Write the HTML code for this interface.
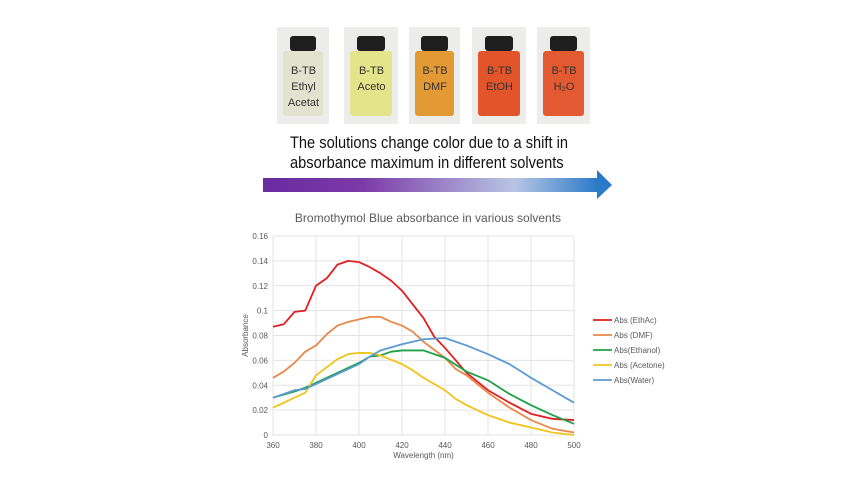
<!DOCTYPE html>
<html><head><meta charset="utf-8"><style>
body{margin:0;width:850px;height:478px;background:#fff;overflow:hidden;font-family:"Liberation Sans",sans-serif;position:relative}
.vial{position:absolute;top:27px;height:97px;background:#ececea;overflow:hidden}
.vial .cap{position:absolute;top:9px;height:15px;background:#1e1e1e;border-radius:3px}
.vial .glass{position:absolute;top:24px;bottom:8px;border-radius:3px}
.vial span{position:absolute;top:36px;left:3px;right:2px;font:11px "Liberation Sans",sans-serif;color:#333;text-align:center;line-height:16px}
.caption{position:absolute;left:290px;top:133px;font-size:17px;color:#111;line-height:20px;transform:scaleX(0.86);transform-origin:0 0;white-space:nowrap}
</style></head><body>
<div class="vial" style="left:277px;width:52px"><div class="cap" style="left:13px;width:26px"></div><div class="glass" style="left:6px;right:6px;background:#e2e3cf"></div><span>B-TB Ethyl Acetat</span></div>
<div class="vial" style="left:344px;width:54px"><div class="cap" style="left:13px;width:28px"></div><div class="glass" style="left:6px;right:6px;background:#e4e48a"></div><span>B-TB Aceto</span></div>
<div class="vial" style="left:409px;width:51px"><div class="cap" style="left:12px;width:27px"></div><div class="glass" style="left:6px;right:6px;background:#e49a34"></div><span>B-TB DMF</span></div>
<div class="vial" style="left:472px;width:54px"><div class="cap" style="left:13px;width:28px"></div><div class="glass" style="left:6px;right:6px;background:#e2552a"></div><span>B-TB EtOH</span></div>
<div class="vial" style="left:537px;width:53px"><div class="cap" style="left:13px;width:27px"></div><div class="glass" style="left:6px;right:6px;background:#e35a32"></div><span>B-TB H₂O</span></div>
<div class="caption">The solutions change color due to a shift in<br>absorbance maximum in different solvents</div>
<svg width="850" height="478" style="position:absolute;left:0;top:0" id="svg">
<defs><linearGradient id="ag" x1="0" x2="1"><stop offset="0" stop-color="#6a2aa0"/><stop offset="0.3" stop-color="#7c3aa8"/><stop offset="0.75" stop-color="#b8c6e4"/><stop offset="1" stop-color="#2a7ac8"/></linearGradient></defs>
<g><rect x="263" y="178" width="335" height="14" fill="url(#ag)"/><polygon points="597,170 612,185 597,199" fill="#2a7ac8"/></g>
<text x="428" y="222" text-anchor="middle" font-size="12" fill="#595959">Bromothymol Blue absorbance in various solvents</text>
<g id="plot"></g>
</svg>
<script>
const xTicks=[360,380,400,420,440,460,480,500];
const yTicks=[0,0.02,0.04,0.06,0.08,0.1,0.12,0.14,0.16];
const yTickLabels=["0","0.02","0.04","0.06","0.08","0.1","0.12","0.14","0.16"];
const seriesNames=["Abs (EthAc)","Abs (DMF)","Abs(Ethanol)","Abs (Acetone)","Abs(Water)"];
const seriesColors=["#e02020","#e8884a","#1fa04a","#f0c419","#5b9bd5"];
const ethacX=[360,365,370,375,380,385,390,395,400,405,410,415,420,425,430,435,440,450,460,470,480,490,500];
const ethacY=[.087,.089,.099,.1,.12,.126,.137,.14,.139,.135,.13,.124,.116,.105,.094,.079,.07,.05,.036,.026,.017,.013,.012];
const dmfX=[360,365,370,375,380,385,390,395,400,405,410,415,420,425,430,440,445,450,460,470,480,490,500];
const dmfY=[.046,.051,.058,.067,.072,.081,.088,.091,.093,.095,.095,.091,.088,.083,.075,.062,.053,.048,.034,.022,.012,.005,.002];
const ethanolX=[360,370,375,380,390,400,405,410,415,420,430,440,450,460,470,480,490,500];
const ethanolY=[.03,.035,.038,.042,.05,.058,.063,.064,.067,.068,.068,.062,.051,.044,.033,.024,.016,.009];
const acetoneX=[360,365,370,375,380,390,395,400,405,410,420,425,430,440,445,450,460,470,480,490,500];
const acetoneY=[.022,.026,.030,.034,.048,.061,.065,.066,.066,.064,.057,.052,.046,.036,.029,.024,.016,.010,.006,.002,0];
const waterX=[360,370,375,380,390,400,405,410,420,425,430,440,450,460,470,480,490,500];
const waterY=[.03,.036,.037,.041,.049,.057,.063,.068,.073,.075,.077,.078,.072,.065,.057,.046,.036,.026];
const seriesX=[ethacX,dmfX,ethanolX,acetoneX,waterX];
const seriesY=[ethacY,dmfY,ethanolY,acetoneY,waterY];
const L=273,R=574,T=236,B=435;
const sx=v=>L+(v-360)/(500-360)*(R-L);
const sy=v=>B-v/0.16*(B-T);
const g=document.getElementById('plot');
const NS='http://www.w3.org/2000/svg';
function mk(t,a){const e=document.createElementNS(NS,t);for(const k in a)e.setAttribute(k,a[k]);g.appendChild(e);return e;}
yTicks.forEach((v,i)=>{
 const l=mk('line',{x1:L,x2:R,y1:sy(v),y2:sy(v),stroke:'#e3e3e3','stroke-width':1});
 
 
 const t=mk('text',{x:L-5,y:sy(v)+3,'text-anchor':'end','font-size':8,fill:'#595959'});
 t.textContent=yTickLabels[i];
 
 
});
xTicks.forEach(v=>{
 const l=mk('line',{x1:sx(v),x2:sx(v),y1:T,y2:B,stroke:'#e3e3e3','stroke-width':1});
 
 
 const t=mk('text',{x:sx(v),y:B+13,'text-anchor':'middle','font-size':8,fill:'#595959'});
 t.textContent=v;
 
 
});
let xt=mk('text',{x:(L+R)/2,y:458,'text-anchor':'middle','font-size':8,fill:'#595959'});xt.textContent='Wavelength (nm)';


let yt=mk('text',{x:0,y:0,'text-anchor':'middle','font-size':8,fill:'#595959',transform:`translate(248,${(T+B)/2}) rotate(-90)`});yt.textContent='Absorbance';


seriesX.forEach((xs,s)=>{
 const p=mk('polyline',{points:xs.map((x,i)=>sx(x)+','+sy(seriesY[s][i])).join(' '),fill:'none',stroke:seriesColors[s],'stroke-width':1.8,'stroke-linejoin':'round'});
 
 
 const y=320+s*15;
 const l=mk('line',{x1:593,x2:612,y1:y,y2:y,stroke:seriesColors[s],'stroke-width':1.8});
 
 
 const t=mk('text',{x:614,y:y+3,'font-size':8,fill:'#595959'});t.textContent=seriesNames[s];
 
 
});
</script>
</body></html>
